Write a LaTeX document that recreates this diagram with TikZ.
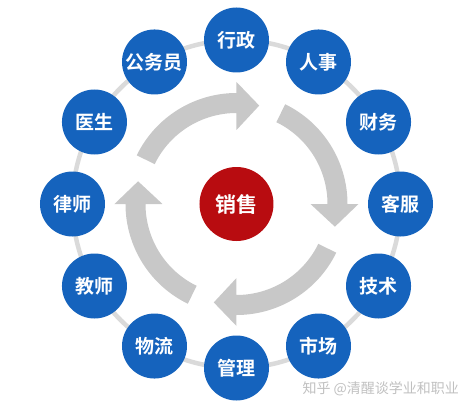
\documentclass[tikz,border=0pt]{standalone}
\usepackage{fontspec}
\usepackage{xcolor}
\usepackage{tikz}
\newfontfamily\cjk{Noto Sans CJK SC}[BoldFont={Noto Sans CJK SC Bold}]
\definecolor{jobblue}{RGB}{21,99,189}
\definecolor{salesred}{RGB}{184,12,16}
\definecolor{ringgray}{RGB}{218,218,218}
\definecolor{flowgray}{RGB}{200,200,200}
\definecolor{markgray}{RGB}{192,192,192}

\begin{document}
\begin{tikzpicture}[
    x=1pt, y=1pt,
    job/.style={circle, fill=jobblue, minimum size=65pt, inner sep=0pt,
                text=white, font=\cjk\bfseries\fontsize{19}{19}\selectfont},
    sales/.style={circle, fill=salesred, minimum size=74pt, inner sep=0pt,
                  text=white, font=\cjk\bfseries\fontsize{21}{21}\selectfont},
    ring/.style={draw=ringgray, line width=4.5pt},
    flow/.style={fill=flowgray},
    wm/.style={text=markgray, font=\cjk\fontsize{14}{14}\selectfont}
]
\useasboundingbox (-236.5,-203) rectangle (237.5,204);
%% Centre
\node[sales] (xs) at (0,0) {销售};
%% Outer ring behind the jobs
\draw[ring] (xs.center) circle (164);
%% Jobs round the ring
\node[job] (xz) at (90:164)   {行政};
\node[job] (rs) at (60:164)   {人事};
\node[job] (cw) at (30:164)   {财务};
\node[job] (kf) at (0:164)    {客服};
\node[job] (js) at (-30:164)  {技术};
\node[job] (sc) at (-60:164)  {市场};
\node[job] (gl) at (-90:164)  {管理};
\node[job] (wl) at (-120:164) {物流};
\node[job] (jsh) at (-150:164) {教师};
\node[job] (ls) at (180:164)  {律师};
\node[job] (ys) at (150:164)  {医生};
\node[job] (gwy) at (120:164) {公务员};
%% Four curved arrows, clockwise
\fill[flow] (154:111) arc[start angle=154, end angle=90, radius=111]
    -- (90:122) -- (77:101) -- (90:74) -- (90:91)
    arc[start angle=90, end angle=154, radius=91] -- cycle;
\fill[flow] (64:111) arc[start angle=64, end angle=0, radius=111]
    -- (0:122) -- (-13:101) -- (0:74) -- (0:91)
    arc[start angle=0, end angle=64, radius=91] -- cycle;
\fill[flow] (-26:111) arc[start angle=-26, end angle=-90, radius=111]
    -- (-90:122) -- (-103:101) -- (-90:74) -- (-90:91)
    arc[start angle=-90, end angle=-26, radius=91] -- cycle;
\fill[flow] (-116:111) arc[start angle=-116, end angle=-180, radius=111]
    -- (-180:122) -- (-193:101) -- (-180:74) -- (-180:91)
    arc[start angle=-180, end angle=-116, radius=91] -- cycle;
%% Watermark
\node[wm, anchor=east] (mark) at (226,-185) {知乎 @清醒谈学业和职业};
\end{tikzpicture}
\end{document}
